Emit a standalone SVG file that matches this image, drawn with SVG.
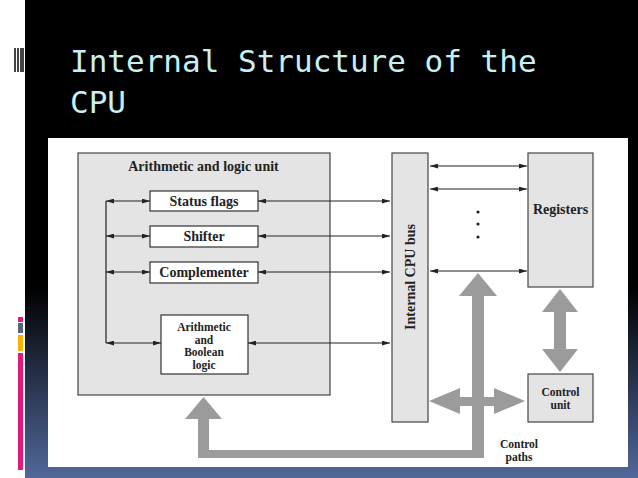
<svg xmlns="http://www.w3.org/2000/svg" width="638" height="478" viewBox="0 0 638 478">
<defs>
<linearGradient id="bg" x1="0" y1="0" x2="0" y2="1">
<stop offset="0" stop-color="#000"/><stop offset="0.6" stop-color="#000"/><stop offset="1" stop-color="#52689a"/>
</linearGradient>
<marker id="ah" viewBox="0 0 10 6" refX="10" refY="3" markerWidth="8" markerHeight="5" orient="auto-start-reverse" markerUnits="userSpaceOnUse"><path d="M0,0L10,3L0,6z" fill="#222"/></marker>
</defs>
<style>
.t{font-family:"Liberation Serif",serif;font-weight:bold;font-size:14px;fill:#222;text-anchor:middle}
.s{font-size:11.5px}
.b{fill:#fff;stroke:#333;stroke-width:1.2}
.g{fill:#e4e4e4;stroke:#444;stroke-width:1.2}
.c line{stroke:#222;stroke-width:1.2;marker-start:url(#ah);marker-end:url(#ah)}
.ga{fill:#9b9b9b}
</style>
<rect width="638" height="478" fill="#fff"/>
<rect x="25" y="0" width="613" height="478" fill="url(#bg)"/>
<g fill="#444"><rect x="14" y="48" width="2" height="24"/><rect x="17" y="48" width="2" height="24"/><rect x="20" y="48" width="4" height="24"/></g>
<rect x="18" y="317" width="5" height="5" fill="#e0197a"/>
<rect x="18" y="323" width="5" height="10" fill="#5a6478"/>
<rect x="18" y="335" width="5" height="16" fill="#f5b400"/>
<rect x="18" y="353" width="5" height="117" fill="#e0197a"/>
<g font-family="DejaVu Sans Mono,monospace" font-size="31" fill="#c8f0f4">
<text x="70" y="72">Internal Structure of the</text>
<text x="70" y="113">CPU</text>
</g>
<rect x="48" y="138" width="580" height="329" fill="#fff"/>
<g id="alu"><rect class="g" x="78" y="153" width="252" height="242"/><text class="t" x="203.5" y="171">Arithmetic and logic unit</text></g>
<g id="status"><rect class="b" x="150" y="191" width="108" height="20"/><text class="t" x="204" y="206">Status flags</text></g>
<g id="shifter"><rect class="b" x="150" y="226" width="108" height="21"/><text class="t" x="204" y="241">Shifter</text></g>
<g id="comp"><rect class="b" x="150" y="262" width="108" height="21"/><text class="t" x="204" y="277">Complementer</text></g>
<g id="arith"><rect class="b" x="161" y="315" width="87" height="59"/><text class="t s" x="204" y="331">Arithmetic</text><text class="t s" x="204" y="343.5">and</text><text class="t s" x="204" y="356">Boolean</text><text class="t s" x="204" y="368.5">logic</text></g>
<g id="bus"><rect class="g" x="392" y="153" width="36" height="269"/><text class="t" transform="translate(415,277) rotate(-90)">Internal CPU bus</text></g>
<g id="registers"><rect class="g" x="528" y="153" width="65" height="134"/><text class="t" x="560.5" y="214">Registers</text></g>
<g id="control"><rect class="g" x="528" y="374" width="65" height="48"/><text class="t s" x="560.5" y="396">Control</text><text class="t s" x="560.5" y="409">unit</text></g>
<g id="dots" fill="#222"><circle cx="478" cy="212" r="1.6"/><circle cx="478" cy="224" r="1.6"/><circle cx="478" cy="237" r="1.6"/></g>
<g id="ctlpaths"><text class="t s" x="519" y="448">Control</text><text class="t s" x="519" y="461">paths</text></g>
<g id="connectors">
<g class="c">
<line x1="106" y1="201" x2="150" y2="201"/><line x1="106" y1="236" x2="150" y2="236"/><line x1="106" y1="272" x2="150" y2="272"/><line x1="106" y1="343" x2="161" y2="343"/>
<line x1="258" y1="201" x2="390" y2="201"/><line x1="258" y1="236" x2="390" y2="236"/><line x1="258" y1="272" x2="390" y2="272"/><line x1="248" y1="343" x2="390" y2="343"/>
<line x1="430" y1="166" x2="527" y2="166"/><line x1="430" y1="189" x2="527" y2="189"/><line x1="430" y1="271" x2="527" y2="271"/>
</g>
<line x1="106" y1="201" x2="106" y2="343" stroke="#222" stroke-width="1.2"/>
<path class="ga" d="M560,289L578,312L566,312L566,349L578,349L560,372L542,349L554,349L554,312L542,312z"/>
<path class="ga" d="M429,401L460,388L460,397L494,397L494,388L525,401L494,414L494,406L460,406L460,414z"/>
<path class="ga" d="M478,273L497,296L484,296L484,458L198,458L198,419L185,419L203.5,397L222,419L209,419L209,450L472,450L472,296L459,296z"/>
</g>
</svg>
